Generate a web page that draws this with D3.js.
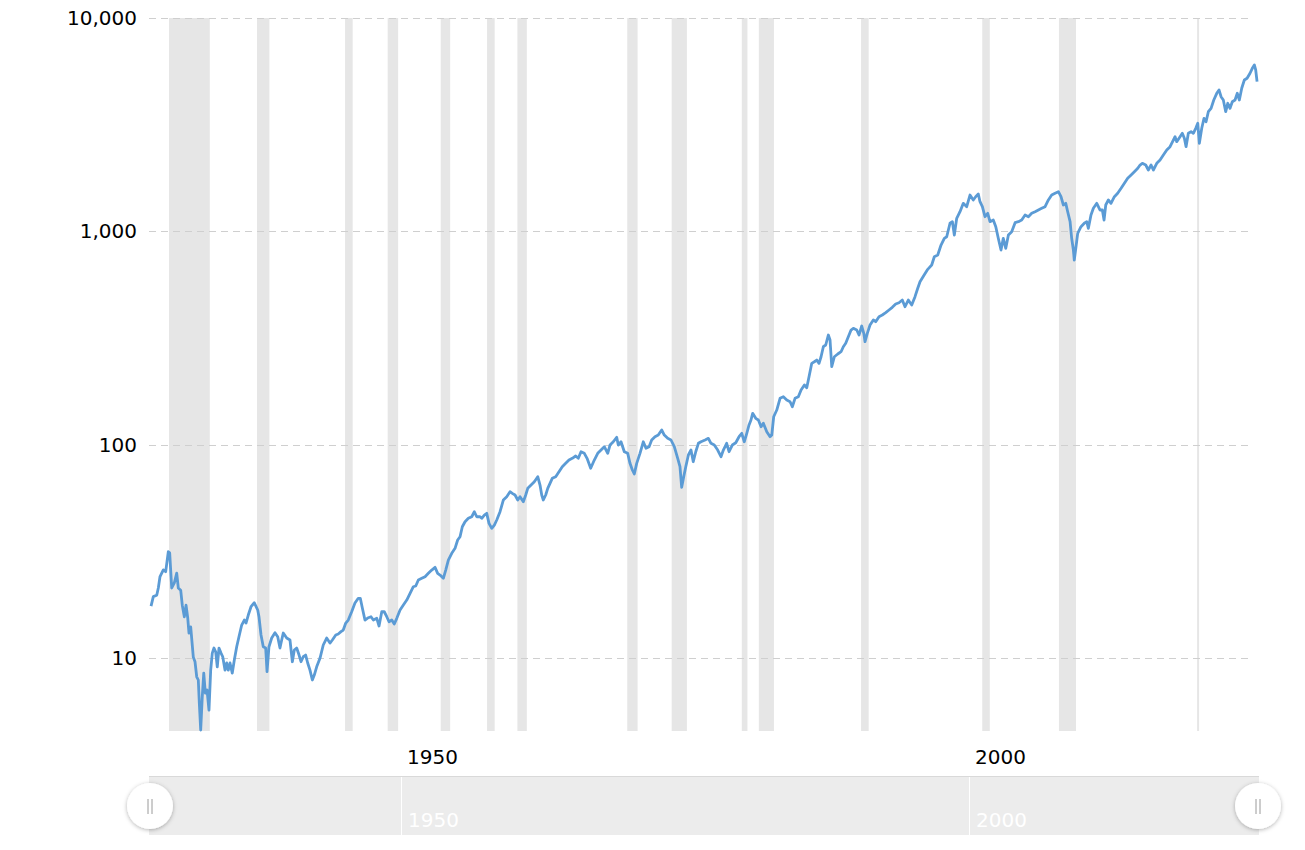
<!DOCTYPE html>
<html><head><meta charset="utf-8">
<script src="https://cdn.jsdelivr.net/npm/d3@7"></script>
<style>
html,body{margin:0;padding:0;background:#fff;}
svg{display:block;font-family:"DejaVu Sans",Verdana,sans-serif;}
</style></head>
<body>
<svg id="chart" width="1305" height="850"></svg>
<script>
// ---- data ----
const years = [1928.00,1928.20,1928.50,1928.64,1928.79,1929.08,1929.29,1929.52,1929.64,1929.82,1930.05,1930.26,1930.40,1930.61,1930.75,1930.93,1931.08,1931.23,1931.34,1931.49,1931.72,1931.87,1932.02,1932.16,1932.25,1932.37,1932.51,1932.64,1932.78,1932.93,1933.10,1933.25,1933.39,1933.54,1933.69,1933.83,1933.98,1934.16,1934.31,1934.51,1934.66,1934.80,1934.95,1935.15,1935.33,1935.54,1935.74,1935.98,1936.21,1936.36,1936.56,1936.80,1937.09,1937.39,1937.50,1937.68,1937.88,1938.09,1938.21,1938.38,1938.62,1938.91,1939.15,1939.35,1939.50,1939.64,1939.94,1940.23,1940.44,1940.61,1940.82,1941.03,1941.20,1941.40,1941.61,1941.79,1941.99,1942.20,1942.37,1942.58,1942.87,1943.16,1943.46,1943.75,1943.96,1944.26,1944.48,1944.72,1944.92,1945.14,1945.36,1945.66,1945.95,1946.24,1946.42,1946.60,1946.83,1947.07,1947.36,1947.57,1947.87,1948.07,1948.31,1948.53,1948.75,1948.95,1949.19,1949.41,1949.63,1949.92,1950.21,1950.51,1950.80,1951.09,1951.30,1951.53,1951.83,1952.12,1952.41,1952.71,1953.00,1953.23,1953.44,1953.73,1953.94,1954.17,1954.47,1954.76,1954.99,1955.20,1955.40,1955.64,1955.93,1956.23,1956.46,1956.67,1956.96,1957.11,1957.34,1957.55,1957.75,1957.99,1958.22,1958.43,1958.72,1959.01,1959.31,1959.60,1959.80,1960.04,1960.28,1960.48,1960.77,1960.98,1961.16,1961.45,1961.74,1962.04,1962.24,1962.39,1962.53,1962.74,1962.92,1963.12,1963.32,1963.62,1963.91,1964.20,1964.50,1964.79,1965.08,1965.38,1965.61,1965.85,1966.14,1966.38,1966.70,1967.02,1967.32,1967.61,1967.90,1968.20,1968.40,1968.69,1968.99,1969.13,1969.37,1969.66,1969.96,1970.16,1970.37,1970.54,1970.75,1971.04,1971.33,1971.57,1971.84,1972.07,1972.36,1972.65,1972.95,1973.18,1973.48,1973.77,1974.06,1974.36,1974.56,1974.71,1974.89,1975.07,1975.30,1975.53,1975.73,1975.95,1976.18,1976.41,1976.77,1977.06,1977.29,1977.58,1977.88,1978.17,1978.38,1978.67,1978.88,1979.17,1979.47,1979.76,1980.00,1980.22,1980.44,1980.64,1980.81,1980.96,1981.23,1981.46,1981.70,1981.90,1982.20,1982.49,1982.64,1982.81,1983.08,1983.37,1983.66,1983.96,1984.25,1984.45,1984.69,1984.98,1985.22,1985.51,1985.72,1985.92,1986.16,1986.39,1986.60,1986.80,1986.98,1987.18,1987.39,1987.62,1987.77,1987.92,1988.15,1988.45,1988.74,1988.94,1989.15,1989.38,1989.62,1989.82,1990.12,1990.32,1990.56,1990.74,1990.85,1991.05,1991.29,1991.58,1991.79,1992.08,1992.37,1992.67,1992.96,1993.25,1993.55,1993.84,1994.13,1994.37,1994.66,1994.96,1995.25,1995.49,1995.69,1996.00,1996.37,1996.72,1996.95,1997.25,1997.54,1997.83,1998.04,1998.33,1998.54,1998.71,1998.92,1999.21,1999.50,1999.80,2000.09,2000.38,2000.59,2000.82,2000.97,2001.18,2001.41,2001.65,2001.85,2002.14,2002.36,2002.58,2002.82,2003.02,2003.24,2003.47,2003.76,2004.06,2004.35,2004.64,2004.94,2005.23,2005.52,2005.82,2006.11,2006.40,2006.70,2006.99,2007.28,2007.58,2007.87,2008.10,2008.31,2008.52,2008.69,2008.90,2009.04,2009.19,2009.27,2009.42,2009.57,2009.86,2010.15,2010.37,2010.51,2010.74,2010.95,2011.25,2011.54,2011.74,2011.89,2012.04,2012.27,2012.50,2012.80,2013.09,2013.39,2013.68,2013.97,2014.27,2014.56,2014.86,2015.06,2015.26,2015.56,2015.79,2016.03,2016.23,2016.53,2016.82,2017.11,2017.41,2017.70,2017.99,2018.14,2018.29,2018.58,2018.78,2018.96,2019.11,2019.31,2019.55,2019.75,2019.96,2020.14,2020.28,2020.49,2020.69,2020.87,2021.07,2021.31,2021.55,2021.81,2022.01,2022.19,2022.39,2022.60,2022.78,2022.98,2023.18,2023.42,2023.62,2023.80,2024.01,2024.24,2024.48,2024.74,2024.94,2025.12,2025.24,2025.36];
const values = [17.5,19.4,19.7,21.3,24.1,25.9,25.4,31.5,31.1,21.3,22.5,25.0,21.3,20.8,17.7,15.6,17.7,15.4,13.1,14.0,10.1,9.61,8.17,7.89,6.15,4.60,6.59,8.50,6.85,7.08,5.70,8.78,10.55,11.14,10.70,9.10,11.14,10.55,10.14,8.78,9.48,8.78,9.48,8.50,9.79,11.30,12.59,14.28,15.07,14.59,15.91,17.40,18.16,16.79,15.62,12.82,11.30,11.14,8.63,11.30,12.41,13.14,12.59,11.14,12.15,13.10,12.41,12.15,9.61,10.90,11.14,10.33,9.61,10.14,10.33,9.48,8.78,7.89,8.32,9.10,9.97,11.51,12.41,11.76,12.15,12.82,12.96,13.29,13.53,14.59,15.07,16.48,18.10,19.05,19.05,17.16,15.07,15.40,15.62,15.07,15.35,14.13,16.48,16.48,15.62,14.80,15.07,14.43,15.35,16.79,17.72,18.70,20.11,21.59,21.76,23.21,23.64,24.05,24.95,25.85,26.61,24.95,24.49,23.64,25.85,28.80,30.97,32.68,35.74,37.04,41.26,43.54,45.16,45.95,48.50,45.95,45.95,45.16,46.80,47.67,42.80,40.55,42.02,44.36,48.50,55.04,57.04,60.20,59.16,58.10,55.04,57.04,54.05,58.10,62.44,64.70,67.05,70.76,64.70,58.10,55.04,58.10,62.44,65.91,69.55,70.76,74.70,78.83,81.78,84.75,86.32,88.49,86.32,92.69,91.09,86.32,77.5,84.75,91.09,94.41,97.84,91.09,99.64,103.2,108.3,99.64,103.2,92.69,91.09,81.78,76.1,72.88,81.78,91.09,103.2,96.16,97.84,105.2,109.0,111.0,117.2,111.0,107.1,105.2,97.84,86.32,78.83,63.12,70.76,78.83,89.45,94.41,83.22,92.69,101.5,103.2,105.2,107.1,101.5,99.64,94.41,87.84,94.41,101.5,92.69,99.64,102.1,109.0,113.1,103.2,113.1,123.7,130.5,140.3,132.9,130.5,121.4,126.0,115.0,109.0,111.0,135.2,145.4,164.9,167.8,161.9,159.0,150.7,164.9,167.8,180.4,190.4,185,208.3,240.6,244.8,249.4,240.6,258.4,287.9,293.3,326.7,309.5,232.0,258.4,266.1,272.8,287.9,298.8,320.8,344.7,351.1,344.7,326.7,360.0,332.7,303.9,332.7,363.9,384.1,377.1,398.0,405.4,415.6,427.9,440.5,456.5,462.9,476.6,443.4,476.6,451.6,494.0,540.8,580.6,617.5,663.7,695.3,760.4,774.5,862.9,927.5,943.6,1091,1110,961,1151,1236,1353,1305,1480,1403,1453,1496,1377,1305,1171,1215,1110,1130,1051,927.5,817.5,927.5,832.7,961,996,1098,1110,1130,1193,1171,1215,1236,1259,1282,1305,1403,1480,1508,1534,1453,1329,1353,1236,1110,927.5,817.5,733.9,847.2,979,1051,1091,1110,1033,1193,1282,1353,1259,1259,1130,1329,1403,1353,1453,1508,1591,1680,1773,1837,1904,1975,2046,2084,2046,1939,2046,1939,2084,2160,2280,2406,2494,2680,2777,2632,2777,2881,2730,2494,2881,2931,2881,3041,3210,2587,3041,3387,3265,3638,3773,4127,4436,4597,4277,4127,3638,3983,3773,4052,4127,4436,4127,4683,5121,5216,5507,5810,6022,5706,5028];

// recession periods (start / end, decimal years)
const recessionStart = [1929.58,1937.33,1945.08,1948.83,1953.50,1957.58,1960.25,1969.92,1973.83,1980.00,1981.50,1990.50,2001.17,2007.92,2020.08];
const recessionEnd   = [1933.17,1938.42,1945.75,1949.75,1954.33,1958.25,1961.08,1970.83,1975.17,1980.50,1982.83,1991.17,2001.83,2009.42,2020.25];

const yTicks = [10, 100, 1000, 10000];
const xTicks = [1950, 2000];

// ---- layout ----
const svg = d3.select("#chart");
const pL = 149, pR = 1259, pT = 18, pB = 731;
const x = d3.scaleLinear().domain([1927.82, 2025.53]).range([pL, pR]);
const y = d3.scaleLog().domain([4.55, 10000]).range([pB, pT]);

// recession bands
svg.append("g").selectAll("rect")
  .data(recessionStart.map((s, i) => [s, recessionEnd[i]]))
  .join("rect")
  .attr("x", d => x(d[0]))
  .attr("width", d => Math.max(2, x(d[1]) - x(d[0])))
  .attr("y", pT)
  .attr("height", pB - pT)
  .attr("fill", "#e6e6e6");

// horizontal dashed gridlines
svg.append("g").selectAll("line")
  .data(yTicks)
  .join("line")
  .attr("x1", pL).attr("x2", 1253)
  .attr("y1", d => Math.round(y(d)) + 0.5).attr("y2", d => Math.round(y(d)) + 0.5)
  .attr("stroke", "#cfcfcf")
  .attr("stroke-width", 1)
  .attr("stroke-dasharray", "7,5");

// y axis labels
svg.append("g").selectAll("text")
  .data(yTicks)
  .join("text")
  .attr("x", 137)
  .attr("y", d => y(d))
  .attr("dy", "0.35em")
  .attr("text-anchor", "end")
  .attr("font-size", 20)
  .attr("fill", "#000")
  .text(d => d3.format(",")(d));

// x axis labels
svg.append("g").selectAll("text")
  .data(xTicks)
  .join("text")
  .attr("x", d => x(d) + 6)
  .attr("y", 764)
  .attr("font-size", 20)
  .attr("fill", "#000")
  .text(d => d);

// data line
const pts = years.map((yr, i) => [yr, values[i]]);
svg.append("path")
  .datum(pts)
  .attr("fill", "none")
  .attr("stroke", "#5b9bd5")
  .attr("stroke-width", 2.8)
  .attr("stroke-linejoin", "round")
  .attr("d", d3.line().x(d => x(d[0])).y(d => y(d[1])));

// ---- scrollbar ----
const sb = svg.append("g");
sb.append("rect").attr("x", pL).attr("y", 776).attr("width", pR - pL).attr("height", 59)
  .attr("fill", "#ececec");
sb.append("line").attr("x1", pL).attr("x2", pR).attr("y1", 776.5).attr("y2", 776.5)
  .attr("stroke", "#d9d9d9");
sb.selectAll("line.g").data(xTicks).join("line").attr("class", "g")
  .attr("x1", d => Math.round(x(d)) + 0.5).attr("x2", d => Math.round(x(d)) + 0.5)
  .attr("y1", 777).attr("y2", 835).attr("stroke", "#fff");
sb.selectAll("text").data(xTicks).join("text")
  .attr("x", d => x(d) + 7).attr("y", 827)
  .attr("font-size", 20).attr("fill", "#fff")
  .text(d => d);

const defs = svg.append("defs");
const f = defs.append("filter").attr("id", "sh").attr("x", "-50%").attr("y", "-50%").attr("width", "200%").attr("height", "200%");
f.append("feDropShadow").attr("dx", 0).attr("dy", 1).attr("stdDeviation", 2).attr("flood-color", "#000").attr("flood-opacity", 0.3);

[pL + 1, pR - 1].forEach(cx => {
  const h = sb.append("g");
  h.append("circle").attr("cx", cx).attr("cy", 806).attr("r", 23).attr("fill", "#fff").attr("filter", "url(#sh)");
  [-2, 2].forEach(o => h.append("line")
    .attr("x1", cx + o).attr("x2", cx + o).attr("y1", 799).attr("y2", 814)
    .attr("stroke", "#9a9a9a").attr("stroke-width", 1));
});
</script>
</body></html>
